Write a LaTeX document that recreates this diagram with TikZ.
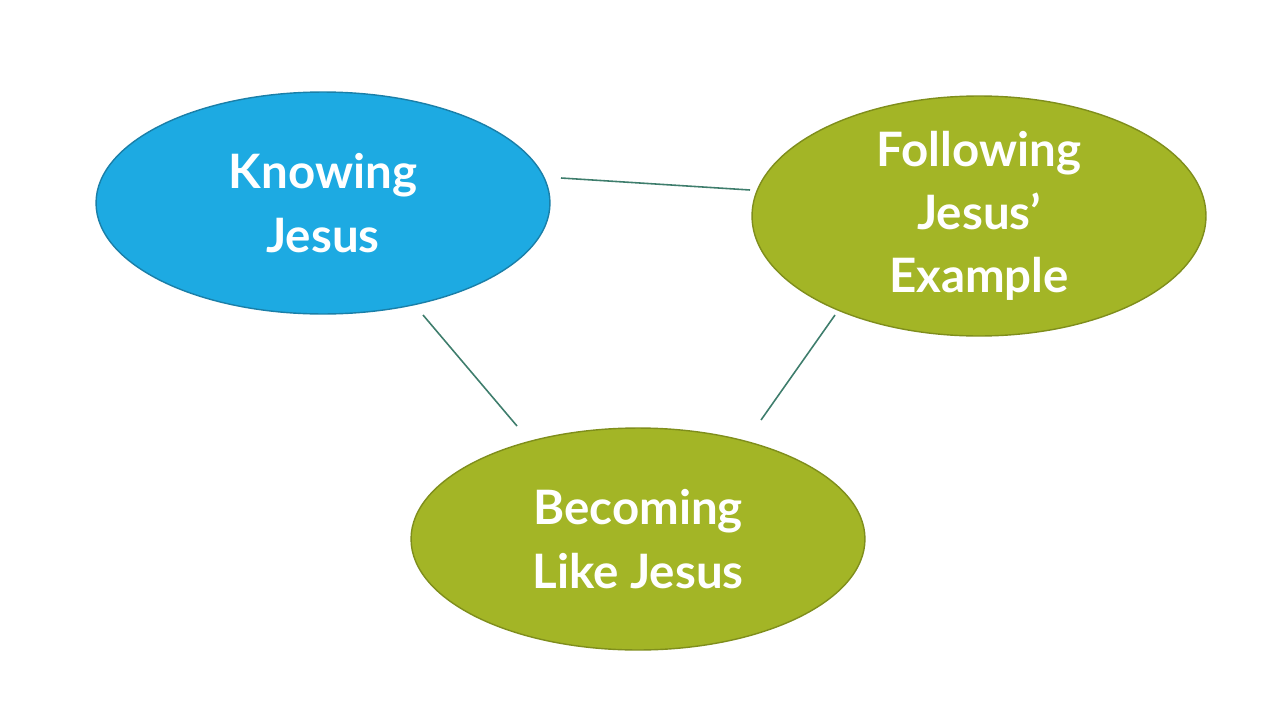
\documentclass[tikz,border=0pt]{standalone}
\usepackage{fontspec}
\setmainfont{Lato}
\usetikzlibrary{shapes.geometric}
\definecolor{blu}{HTML}{1DAAE2}
\definecolor{bluE}{HTML}{1A7FA8}
\definecolor{grn}{HTML}{A3B526}
\definecolor{grnE}{HTML}{7F8E1C}
\definecolor{lnk}{HTML}{3E7D6C}
\tikzset{
  oval/.style={ellipse, minimum width=9.08cm, minimum height=4.44cm, inner sep=0pt,
    text=white, align=center, font=\fontsize{27}{36}\selectfont\bfseries, line width=0.8pt},
  bluoval/.style={oval, fill=blu, draw=bluE},
  grnoval/.style={oval, fill=grn, draw=grnE},
  link/.style={draw=lnk, line width=0.9pt}
}
\begin{document}
\begin{tikzpicture}[x=0.02cm,y=-0.02cm]
\useasboundingbox (0,0) rectangle (1280,720);
\node[bluoval] (k) at (323,203) {Knowing\\Jesus};
\node[grnoval] (f) at (979,216) {Following\\Jesus’\\Example};
\node[grnoval] (b) at (638,539) {Becoming\\Like Jesus};
\coordinate (k1) at (561,178); \coordinate (f1) at (750,190);
\coordinate (k2) at (423,315); \coordinate (b1) at (517,426);
\coordinate (f2) at (835,315); \coordinate (b2) at (761,420);
\draw[link] (k1) -- (f1);
\draw[link] (k2) -- (b1);
\draw[link] (f2) -- (b2);
\end{tikzpicture}
\end{document}
